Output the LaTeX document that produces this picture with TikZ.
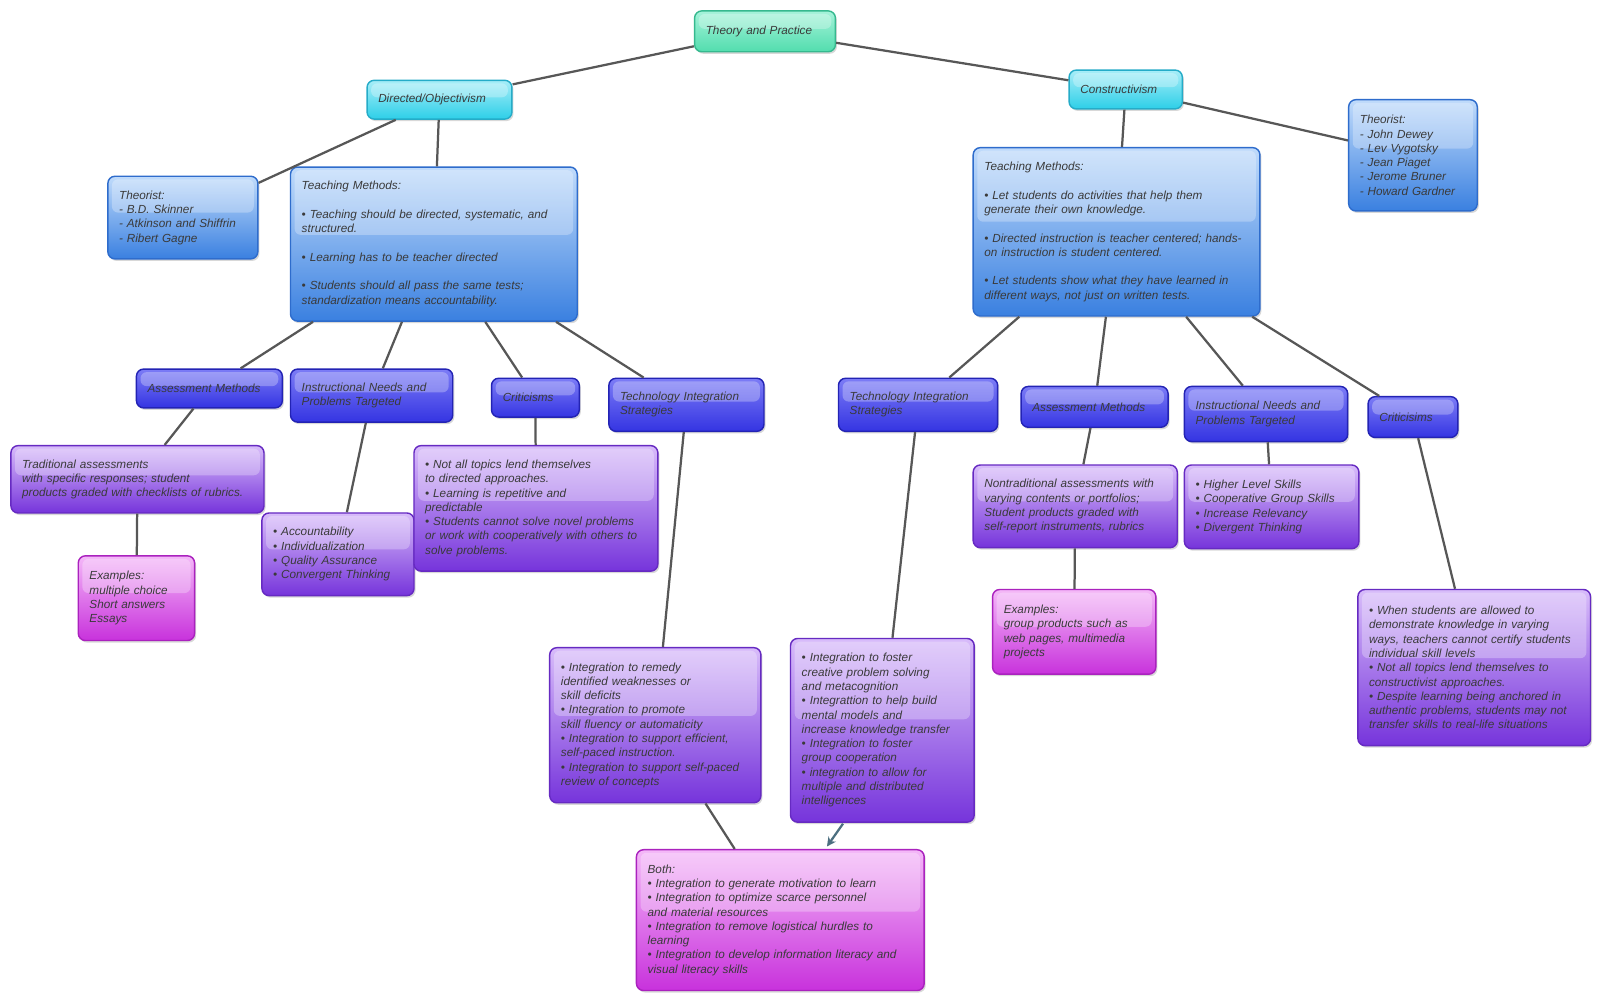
\documentclass[tikz,border=0pt]{standalone}
\usepackage{fontspec}
\setmainfont{Liberation Sans}
\usepackage{xcolor}
\usepackage{tikz}
\usetikzlibrary{calc}
\usetikzlibrary{arrows.meta}
\usetikzlibrary{shadows}

\definecolor{txt}{HTML}{3A3A3A}
\definecolor{linkc}{HTML}{575757}
\definecolor{arrowc}{HTML}{4C6F80}
\definecolor{rootl}{HTML}{A6F3DA}
\definecolor{rootc}{HTML}{52DDAE}
\definecolor{rootd}{HTML}{36B98F}
\definecolor{cyanl}{HTML}{A8EEF8}
\definecolor{cyanc}{HTML}{2DCFE8}
\definecolor{cyand}{HTML}{25ACC8}
\definecolor{bluel}{HTML}{C0DBFB}
\definecolor{bluec}{HTML}{3A80E0}
\definecolor{blued}{HTML}{2E6CCC}
\definecolor{indl}{HTML}{7C7CF6}
\definecolor{indc}{HTML}{3434E2}
\definecolor{indd}{HTML}{2323B4}
\definecolor{purl}{HTML}{D8BCFA}
\definecolor{purc}{HTML}{7634DB}
\definecolor{purd}{HTML}{662AC2}
\definecolor{magl}{HTML}{F4B8F8}
\definecolor{magc}{HTML}{C832DC}
\definecolor{magd}{HTML}{AA22BE}

\tikzset{
  cbox/.style={anchor=north west, rounded corners=7pt, inner xsep=11pt, inner ysep=4pt,
    align=left, font=\itshape\fontsize{11.5}{14}\selectfont, text=txt, line width=1.4pt,
    drop shadow={opacity=.3, shadow xshift=1.5pt, shadow yshift=-2pt},
    path picture={\fill[white, fill opacity=.28, rounded corners=6pt]
      ($(path picture bounding box.north west)+(4pt,-3pt)$) rectangle
      ($(path picture bounding box.east)!.12!(path picture bounding box.north east)+(-4pt,0)$);}},
  sz/.style 2 args={minimum width=#1, minimum height=#2, text width=#1-22},
  rootbox/.style={cbox, draw=rootd, top color=rootl, bottom color=rootc},
  headbox/.style={cbox, draw=cyand, top color=cyanl, bottom color=cyanc},
  infobox/.style={cbox, draw=blued, top color=bluel, bottom color=bluec},
  catbox/.style={cbox, draw=indd, top color=indl, bottom color=indc},
  listbox/.style={cbox, draw=purd, top color=purl, bottom color=purc},
  exbox/.style={cbox, draw=magd, top color=magl, bottom color=magc},
  link/.style={draw=linkc, line width=2.2pt},
}

\begin{document}
\begin{tikzpicture}[x=1pt, y=-1pt]
\fill[white] (0,0) rectangle (1568,980);
\useasboundingbox (0,0) rectangle (1568,980);

\node[rootbox, sz={138}{40}] (root) at (680,10) {Theory and Practice};
\node[headbox, sz={142}{38}] (dirobj) at (359,78) {Directed/Objectivism};
\node[headbox, sz={111}{38}] (constr) at (1047,68) {Constructivism};

\node[infobox, sz={147}{81}] (theoL) at (105,172) {Theorist:\\- B.D. Skinner\\- Atkinson and Shiffrin\\- Ribert Gagne};
\node[infobox, sz={281}{151}] (teachL) at (284,163) {Teaching Methods:\\[14pt]
  • Teaching should be directed, systematic, and\\structured.\\[14pt]
  • Learning has to be teacher directed\\[14pt]
  • Students should all pass the same tests;\\standardization means accountability.};
\node[infobox, sz={281}{165}] (teachR) at (953,144) {Teaching Methods:\\[14pt]
  • Let students do activities that help them\\generate their own knowledge.\\[14pt]
  • Directed instruction is teacher centered; hands-\\on instruction is student centered.\\[14pt]
  • Let students show what they have learned in\\different ways, not just on written tests.};
\node[infobox, sz={126}{109}] (theoR) at (1321,97) {Theorist:\\- John Dewey\\- Lev Vygotsky\\- Jean Piaget\\- Jerome Bruner\\- Howard Gardner};

\node[catbox, sz={143}{38}] (assessL) at (133,361) {Assessment Methods};
\node[catbox, sz={159}{52}] (instrL) at (284,361) {Instructional Needs and\\Problems Targeted};
\node[catbox, sz={86}{38}] (critL) at (481,370) {Criticisms};
\node[catbox, sz={152}{52}] (techL) at (596,370) {Technology Integration\\Strategies};
\node[catbox, sz={156}{52}] (techR) at (821,370) {Technology Integration\\Strategies};
\node[catbox, sz={144}{40}] (assessR) at (1000,378) {Assessment Methods};
\node[catbox, sz={160}{54}] (instrR) at (1160,378) {Instructional Needs and\\Problems Targeted};
\node[catbox, sz={88}{40}] (critR) at (1340,388) {Criticisims};

\node[listbox, sz={248}{66}] (tradL) at (10,436) {Traditional assessments\\with specific responses; student\\products graded with checklists of rubrics.};
\node[listbox, sz={149}{81}] (accL) at (256,502) {• Accountability\\• Individualization\\• Quality Assurance\\• Convergent Thinking};
\node[listbox, sz={239}{123}] (critLlist) at (405,436) {• Not all topics lend themselves\\to directed approaches.\\• Learning is repetitive and\\predictable\\• Students cannot solve novel problems\\or work with cooperatively with others to\\solve problems.};
\node[exbox, sz={114}{83}] (exL) at (76,544) {Examples:\\multiple choice\\Short answers\\Essays};
\node[listbox, sz={207}{152}] (techLlist) at (538,634) {• Integration to remedy\\identified weaknesses or\\skill deficits\\• Integration to promote\\skill fluency or automaticity\\• Integration to support efficient,\\self-paced instruction.\\• Integration to support self-paced\\review of concepts};
\node[listbox, sz={180}{180}] (techRlist) at (774,625) {• Integration to foster\\creative problem solving\\and metacognition\\• Integrattion to help build\\mental models and\\increase knowledge transfer\\• Integration to foster\\group cooperation\\• integration to allow for\\multiple and distributed\\intelligences};
\node[listbox, sz={200}{81}] (nontrad) at (953,455) {Nontraditional assessments with\\varying contents or portfolios;\\Student products graded with\\self-report instruments, rubrics};
\node[listbox, sz={171}{82}] (higher) at (1160,455) {• Higher Level Skills\\• Cooperative Group Skills\\• Increase Relevancy\\• Divergent Thinking};
\node[exbox, sz={160}{83}] (exR) at (972,577) {Examples:\\group products such as\\web pages, multimedia\\projects};
\node[listbox, sz={228}{153}] (critRlist) at (1330,577) {• When students are allowed to\\demonstrate knowledge in varying\\ways, teachers cannot certify students\\individual skill levels\\• Not all topics lend themselves to\\constructivist approaches.\\• Despite learning being anchored in\\authentic problems, students may not\\transfer skills to real-life situations};
\node[exbox, sz={282}{138}] (both) at (623,832) {Both:\\• Integration to generate motivation to learn\\• Integration to optimize scarce personnel\\and material resources\\• Integration to remove logistical hurdles to\\learning\\• Integration to develop information literacy and\\visual literacy skills};

\draw[link] (root) -- (dirobj);
\draw[link] (root) -- (constr);
\draw[link] (dirobj) -- (theoL);
\draw[link] (dirobj) -- (teachL);
\draw[link] (constr) -- (teachR);
\draw[link] (constr) -- (theoR);
\foreach \kid in {assessL,instrL,critL,techL} {
  \draw[link] (teachL) -- (\kid);
}
\foreach \kid in {techR,assessR,instrR,critR} {
  \draw[link] (teachR) -- (\kid);
}
\draw[link] (assessL) -- (tradL);
\draw[link] (tradL) -- (exL);
\draw[link] (instrL) -- (accL);
\draw[link] (critL) -- (critLlist);
\draw[link] (techL) -- (techLlist);
\draw[link] (techR) -- (techRlist);
\draw[link] (assessR) -- (nontrad);
\draw[link] (nontrad) -- (exR);
\draw[link] (instrR) -- (higher);
\draw[link] (critR) -- (critRlist);
\draw[link] (techLlist) -- (both);
\draw[arrowc, line width=2.2pt, -{Stealth[length=9pt,width=9pt]}, shorten <=1pt, shorten >=3pt]
  ([xshift=-38pt]techRlist.south) -- ([xshift=44pt]both.north);
\end{tikzpicture}
\end{document}
